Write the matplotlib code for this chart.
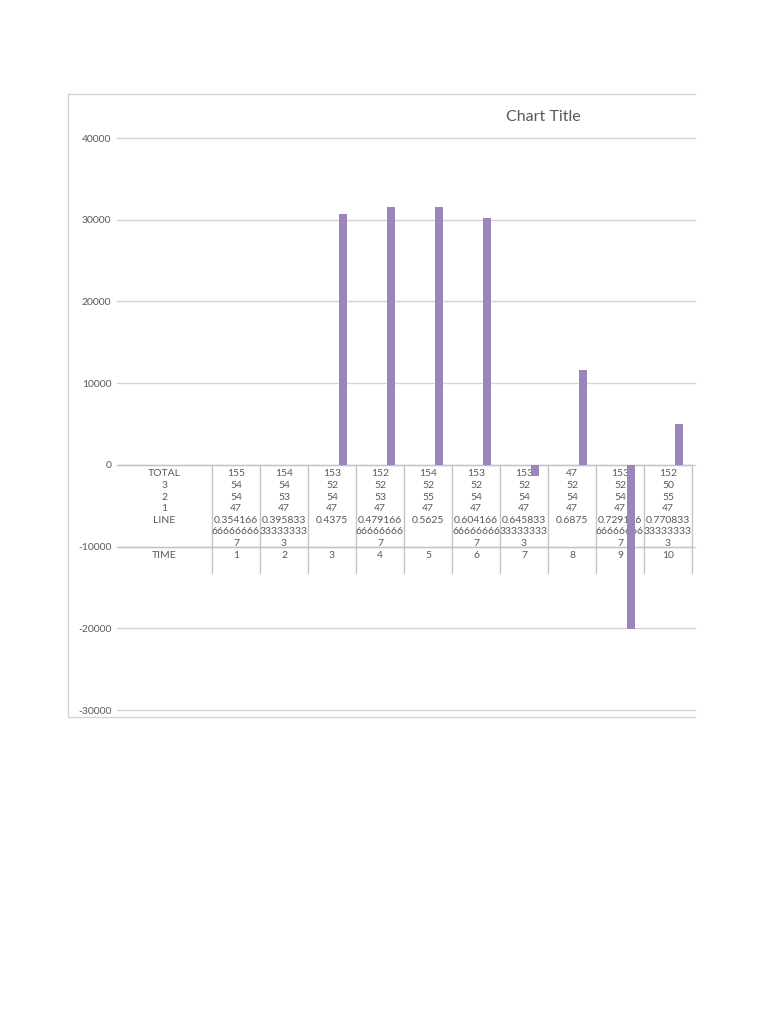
import textwrap
import matplotlib.pyplot as plt
from matplotlib.lines import Line2D

plt.rcParams['font.family'] = ['Lato', 'DejaVu Sans']

# data
time = [1, 2, 3, 4, 5, 6, 7, 8, 9, 10]
values = [0, 0, 30750, 31500, 31500, 30250, -1400, 11650, -20100, 5030]
total = [155, 154, 153, 152, 154, 153, 153, 47, 153, 152]
row3 = [54, 54, 52, 52, 52, 52, 52, 52, 52, 50]
row2 = [54, 53, 54, 53, 55, 54, 54, 54, 54, 55]
row1 = [47, 47, 47, 47, 47, 47, 47, 47, 47, 47]
line = ["0.354166666666667", "0.395833333333333", "0.4375", "0.479166666666667",
        "0.5625", "0.604166666666667", "0.645833333333333", "0.6875",
        "0.729166666666667", "0.770833333333333"]
row_labels = ["TOTAL", "3", "2", "1", "LINE"]
yticks = [40000, 30000, 20000, 10000, 0, -10000, -20000, -30000]

W, H = 768, 1024
TXT = '#595959'
GRID = '#d4d4d4'
BAR = '#9b85bb'
FS = 7.5

fig = plt.figure(figsize=(W / 100, H / 100), dpi=100)

# axes in pixel placement: x 117..695, y 138 (40000) .. 710 (-30000)
x0, x1 = 117, 695
ytop, ybot = 138, 710
ax = fig.add_axes([x0 / W, 1 - ybot / H, (x1 - x0) / W, (ybot - ytop) / H])
ax.set_ylim(-30000, 40000)
ax.set_xlim(1 - (236 - x0) / 48, 1 + (x1 - 236) / 48)
for s in ax.spines.values():
    s.set_visible(False)
ax.set_xticks([])
ax.set_yticks(yticks)
ax.set_yticklabels([str(t) for t in yticks], color=TXT, fontsize=FS)
ax.tick_params(axis='y', length=0, pad=4)
ax.grid(axis='y', color=GRID, lw=1)
for gl in ax.get_ygridlines():
    gl.set_clip_on(False)
ax.set_axisbelow(True)

ax.bar([t + 11 / 48 for t in time], values, width=8 / 48, color=BAR, zorder=5)

# data table under the zero line
px = 10000 / 81.6  # value per pixel
def ypx(dy):
    return -dy * px

left = 1 - (236 - x0) / 48
right = time[-1] + 0.5
tl = dict(color='#c4c4c4', lw=1, zorder=3)
ax.plot([left, right], [0, 0], **tl)
ax.plot([left, right], [ypx(82), ypx(82)], **tl)
for xb in [time[0] - 0.5] + [t + 0.5 for t in time]:
    ax.plot([xb, xb], [0, ypx(108)], **tl)

step = 11.6
lab_x = (left + time[0] - 0.5) / 2
for r, lab in enumerate(row_labels):
    ax.text(lab_x, ypx(9 + step * r), lab, ha='center', va='center', fontsize=FS, color=TXT, zorder=4)
ax.text(lab_x, ypx(91), "TIME", ha='center', va='center', fontsize=FS, color=TXT, zorder=4)

for i, t in enumerate(time):
    cells = [total[i], row3[i], row2[i], row1[i]]
    for r, v in enumerate(cells):
        ax.text(t, ypx(9 + step * r), str(v), ha='center', va='center', fontsize=FS, color=TXT, zorder=4)
    for k, part in enumerate(textwrap.wrap(line[i], 8)):
        ax.text(t, ypx(9 + step * (4 + k)), part, ha='center', va='center', fontsize=FS, color=TXT, zorder=4)
    ax.text(t, ypx(91), str(t), ha='center', va='center', fontsize=FS, color=TXT, zorder=4)

# chart frame (cut off on the right)
fr = dict(color=GRID, lw=1, transform=fig.transFigure)
fig.add_artist(Line2D([68 / W, 695 / W], [1 - 94 / H, 1 - 94 / H], **fr))
fig.add_artist(Line2D([68 / W, 695 / W], [1 - 717 / H, 1 - 717 / H], **fr))
fig.add_artist(Line2D([68 / W, 68 / W], [1 - 94 / H, 1 - 717 / H], **fr))

fig.text(543 / W, 1 - 117 / H, "Chart Title", ha='center', va='center', fontsize=11.5, color=TXT)

fig.savefig("out.png", dpi=100, facecolor='white')
